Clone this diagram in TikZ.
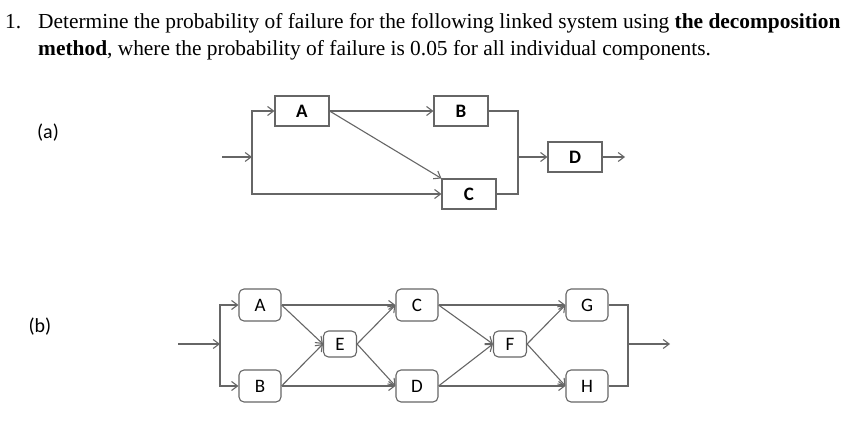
\documentclass[tikz,border=0pt]{standalone}
\usepackage{fontspec}
\setmainfont{Liberation Serif}
\newfontfamily\carfont{Carlito}
\usetikzlibrary{arrows.meta}
\begin{document}
\begin{tikzpicture}[x=1pt,y=-1pt,
  ln/.style={draw=black!60,line width=1.1pt},
  ar/.style={ln,-{Straight Barb[length=6pt,width=9pt]}},
  boxa/.style={ln,rectangle,minimum width=54pt,minimum height=30pt,font=\carfont\bfseries\fontsize{19}{19}\selectfont},
  boxb/.style={ln,rectangle,rounded corners=5pt,minimum width=42pt,minimum height=32pt,font=\carfont\fontsize{19}{19}\selectfont},
  boxe/.style={boxb,minimum width=33pt,minimum height=26pt},
  lbl/.style={font=\carfont\fontsize{20}{20}\selectfont},
  ttl/.style={anchor=base west,inner sep=0,font=\fontsize{21.4}{25}\selectfont}]
\useasboundingbox (0,0) rectangle (854,427);
\node[ttl] (t1) at (5,29) {1.};
\node[ttl] (t2) at (38,29) {Determine the probability of failure for the following linked system using \textbf{the decomposition}};
\node[ttl] (t3) at (38,56) {\textbf{method}, where the probability of failure is 0.05 for all individual components.};
\node[lbl] (la) at (48,133) {(a)};
\node[lbl] (lb) at (40,327) {(b)};
% (a)
\node[boxa] (A) at (302,111) {A};
\node[boxa] (B) at (461,111) {B};
\node[boxa] (C) at (469,194) {C};
\node[boxa] (D) at (575,157) {D};
\coordinate (in) at (222,157);
\coordinate (j1) at (252,157);
\coordinate (j2) at (518,157);
\coordinate (out) at (625,157);
\draw[ar] (in) -- (j1);
\draw[ar] (j1) |- (A.west);
\draw[ar] (j1) |- (C.west);
\draw[ar] (A.east) -- (B.west);
\draw[ar] (A.east) -- (C.north west);
\draw[ln] (B.east) -| (j2);
\draw[ln] (C.east) -| (j2);
\draw[ar] (j2) -- (D.west);
\draw[ar] (D.east) -- (out);
% (b)
\node[boxb] (bA) at (260,305) {A};
\node[boxb] (bB) at (260,386) {B};
\node[boxe] (bE) at (340,344) {E};
\node[boxb] (bC) at (417,305) {C};
\node[boxb] (bD) at (417,386) {D};
\node[boxe] (bF) at (510,344) {F};
\node[boxb] (bG) at (587,305) {G};
\node[boxb] (bH) at (587,386) {H};
\coordinate (bin) at (178,344);
\coordinate (bj1) at (220,344);
\coordinate (bj2) at (628,344);
\coordinate (bout) at (670,344);
\draw[ar] (bin) -- (bj1);
\draw[ar] (bj1) |- (bA.west);
\draw[ar] (bj1) |- (bB.west);
\draw[ar] (bA.east) -- (bC.west);
\draw[ar] (bB.east) -- (bD.west);
\draw[ar] (bA.east) -- (bE.west);
\draw[ar] (bB.east) -- (bE.west);
\draw[ar] (bE.east) -- (bC.west);
\draw[ar] (bE.east) -- (bD.west);
\draw[ar] (bC.east) -- (bG.west);
\draw[ar] (bD.east) -- (bH.west);
\draw[ar] (bC.east) -- (bF.west);
\draw[ar] (bD.east) -- (bF.west);
\draw[ar] (bF.east) -- (bG.west);
\draw[ar] (bF.east) -- (bH.west);
\draw[ln] (bG.east) -| (bj2);
\draw[ln] (bH.east) -| (bj2);
\draw[ar] (bj2) -- (bout);
\end{tikzpicture}
\end{document}
